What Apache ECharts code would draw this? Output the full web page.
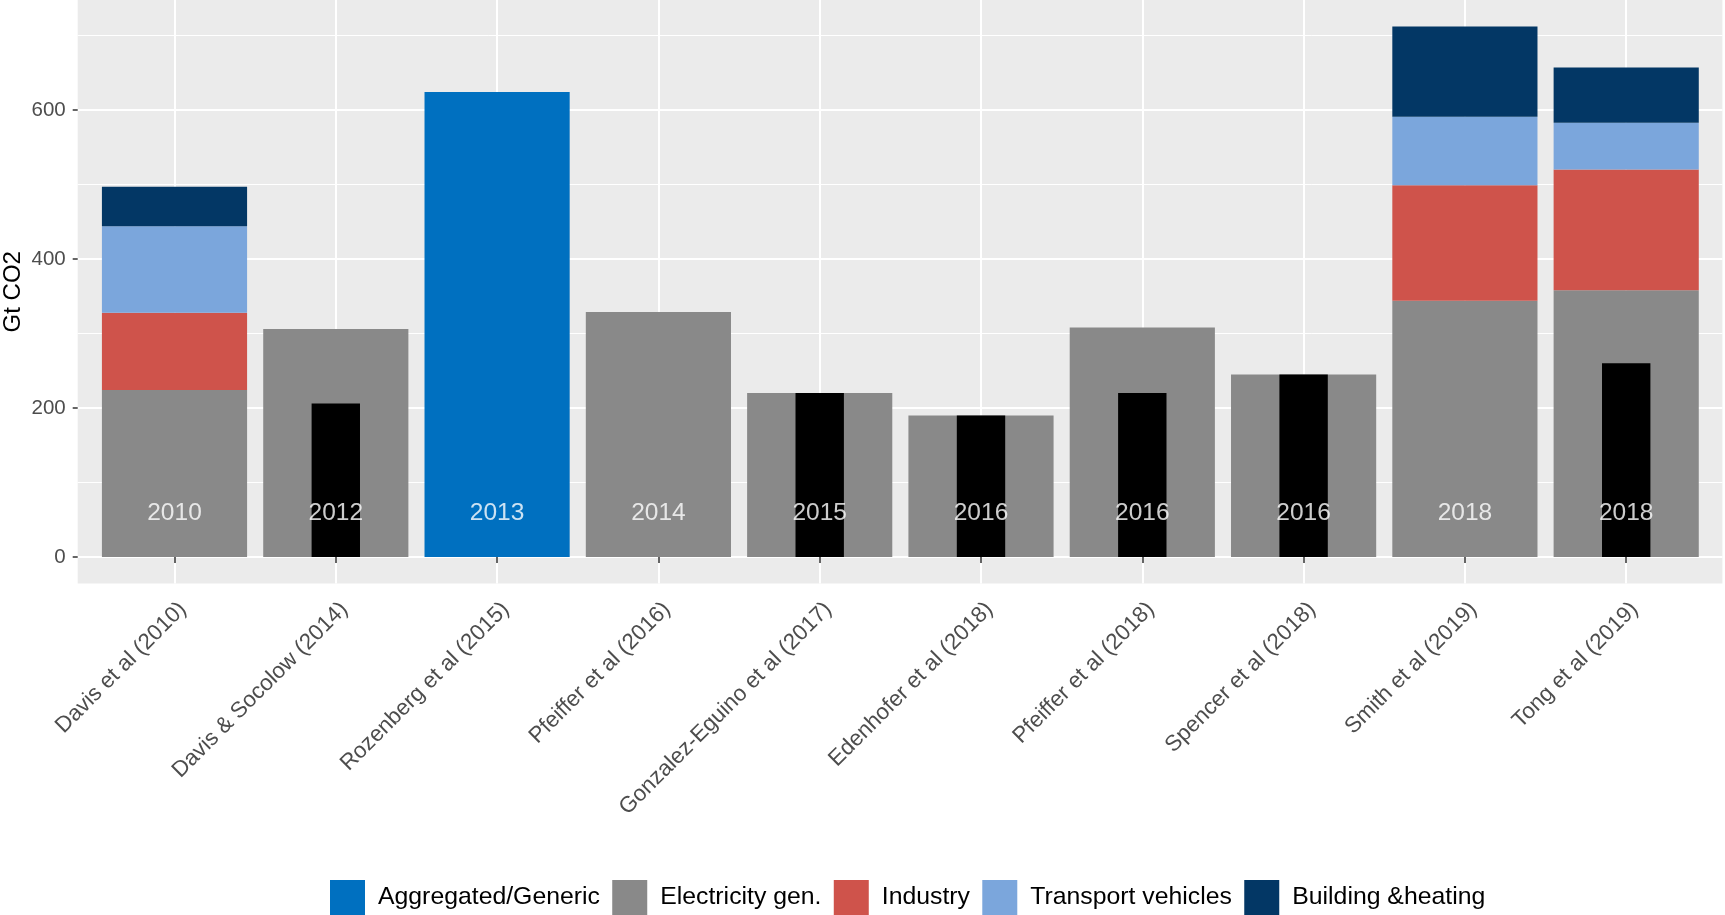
<!DOCTYPE html>
<html><head><meta charset="utf-8">
<script src="https://cdn.jsdelivr.net/npm/echarts@6/dist/echarts.min.js"></script>
<style>html,body{margin:0;padding:0;background:#fff}#c{width:1725px;height:915px}</style>
</head><body><div id="c"></div>
<script>
// ---- data ----
const categories = ['Davis et al (2010)', 'Davis & Socolow (2014)', 'Rozenberg et al (2015)', 'Pfeiffer et al (2016)', 'Gonzalez-Eguino et al (2017)', 'Edenhofer et al (2018)', 'Pfeiffer et al (2018)', 'Spencer et al (2018)', 'Smith et al (2019)', 'Tong et al (2019)'];
const yearLabels = ['2010', '2012', '2013', '2014', '2015', '2016', '2016', '2016', '2018', '2018'];
const aggregated  = [null, null, 624, null, null, null, null, null, null, null];
const electricity = [224, 306, null, 329, 220, 190, 308, 245, 344, 358];
const industry    = [104, null, null, null, null, null, null, null, 155, 162];
const transport   = [116, null, null, null, null, null, null, null, 92, 63];
const building    = [53, null, null, null, null, null, null, null, 121, 74];
const inner       = [null, 206, null, null, 220, 190, 220, 245, null, 260];
const yearLabelY  = 59;
const seriesNames = ['Aggregated/Generic', 'Electricity gen.', 'Industry', 'Transport vehicles', 'Building &heating'];

// ---- layout ----
const FONT = '"Liberation Sans", Arial, sans-serif';
const panelL = 77.7, panelR = 1722.4, panelT = 0, panelB = 583.5;
const y0 = 557, k = 0.745;
const yMin = -(panelB - y0) / k, yMax = (y0 - panelT) / k;
const c0 = 174.5, band = 161.3;
const barsLeft = c0 - band / 2, barsWidth = band * categories.length;

const colors = ['#0070C0', '#898989', '#CF534B', '#7BA6DC', '#033765'];
const dataSets = [aggregated, electricity, industry, transport, building];

const chart = echarts.init(document.getElementById('c'), null, {renderer: 'canvas'});
const hiddenVal = (gi, extra) => Object.assign({type: 'value', gridIndex: gi, show: false, min: 0, max: 1}, extra || {});
const mkGrid = (o) => Object.assign({outerBoundsMode: 'none', containLabel: false}, o);

const series = dataSets.map((d, i) => ({
  name: seriesNames[i], type: 'bar', xAxisIndex: 4, yAxisIndex: 4, stack: 'total',
  data: d, barWidth: band * 0.9, itemStyle: {color: colors[i]}, z: 2
}));
series.push({
  name: 'inner', type: 'bar', xAxisIndex: 5, yAxisIndex: 4, data: inner,
  barWidth: band * 0.3, itemStyle: {color: '#000000'}, z: 3
});
series.push({
  name: 'years', type: 'scatter', xAxisIndex: 4, yAxisIndex: 4, symbolSize: 0, z: 4,
  data: yearLabels.map(() => yearLabelY),
  label: {show: true, position: 'inside', color: '#ffffff', fontSize: 24.5, fontFamily: FONT,
    textBorderWidth: 0, formatter: p => yearLabels[p.dataIndex]}
});

chart.setOption({
  animation: false,
  textStyle: {fontFamily: FONT},
  grid: [
    mkGrid({left: panelL, top: panelT, width: panelR - panelL, height: panelB - panelT, show: true, backgroundColor: '#EBEBEB', borderWidth: 0, z: 0}),
    mkGrid({left: panelL, top: y0 - 600 * k, width: panelR - panelL, height: 600 * k}),
    mkGrid({left: panelL, top: y0 - 700 * k, width: panelR - panelL, height: 600 * k}),
    mkGrid({left: c0, top: panelT, width: band * (categories.length - 1), height: panelB - panelT}),
    mkGrid({left: barsLeft, top: panelT, width: barsWidth, height: panelB - panelT})
  ],
  xAxis: [
    hiddenVal(0),
    hiddenVal(1),
    hiddenVal(2),
    {type: 'category', gridIndex: 3, data: categories, boundaryGap: false, z: 1,
      axisLine: {show: false}, axisTick: {show: false}, axisLabel: {show: false},
      splitLine: {show: true, interval: 0, lineStyle: {color: '#ffffff', width: 2}}},
    {type: 'category', gridIndex: 4, data: categories, boundaryGap: true, z: 1,
      axisLine: {show: false},
      axisTick: {show: true, alignWithLabel: true, length: 6, lineStyle: {color: '#333333', width: 1.5}},
      axisLabel: {show: true, interval: 0, rotate: 45, align: 'right', verticalAlign: 'top',
        lineHeight: 24, margin: 14, fontSize: 22.3, color: '#4D4D4D', fontFamily: FONT},
      splitLine: {show: false}},
    {type: 'category', gridIndex: 4, data: categories, show: false}
  ],
  yAxis: [
    {type: 'value', gridIndex: 0, min: yMin, max: yMax, z: 1,
      axisLine: {show: false}, axisTick: {show: false}, axisLabel: {show: false}, splitLine: {show: false},
      name: 'Gt CO2', nameLocation: 'middle', nameGap: 52,
      nameTextStyle: {fontSize: 24, color: '#000000', fontFamily: FONT}},
    {type: 'value', gridIndex: 1, min: 0, max: 600, interval: 200, z: 1,
      axisLine: {show: false},
      axisTick: {show: true, length: 5, lineStyle: {color: '#333333', width: 1.5}},
      axisLabel: {show: true, margin: 12, fontSize: 20.5, color: '#4D4D4D', fontFamily: FONT},
      splitLine: {show: true, lineStyle: {color: '#ffffff', width: 2}}},
    {type: 'value', gridIndex: 2, min: 100, max: 700, interval: 200, z: 1,
      axisLine: {show: false}, axisTick: {show: false}, axisLabel: {show: false},
      splitLine: {show: true, lineStyle: {color: '#ffffff', width: 1}}},
    hiddenVal(3),
    {type: 'value', gridIndex: 4, min: yMin, max: yMax, show: false}
  ],
  legend: {
    data: seriesNames, left: 330, top: 880, orient: 'horizontal', padding: 0,
    icon: 'rect', itemWidth: 35, itemHeight: 35, itemGap: 12.3, selectedMode: false,
    textStyle: {fontSize: 24.8, color: '#000000', fontFamily: FONT, padding: [6, 0, 0, 8]}
  },
  series: series
});
</script></body></html>
